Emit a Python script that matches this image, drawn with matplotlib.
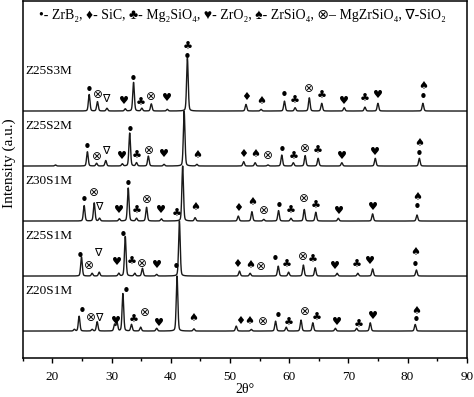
import numpy as np
import matplotlib
matplotlib.use("Agg")
import matplotlib.pyplot as plt

plt.rcParams["font.family"] = ["Liberation Serif", "DejaVu Sans"]

# ── data ────────────────────────────────────────────────────────────────────
SAMPLES = ["Z20S1M", "Z25S1M", "Z30S1M", "Z25S2M", "Z25S3M"]   # bottom → top

# peaks: (2θ, relative intensity)
PEAKS_Z20S1M = [(23.7, 0.03), (24.5, 0.27), (26.7, 0.03), (27.55, 0.17), (30.5, 0.12),
                (30.9, 0.16), (31.9, 0.68), (33.35, 0.12), (34.9, 0.07), (37.6, 0.05),
                (41.05, 1.0), (43.9, 0.04), (51.05, 0.09), (53.6, 0.03), (57.7, 0.18),
                (59.5, 0.07), (62.0, 0.2), (64.0, 0.15), (67.8, 0.05), (71.4, 0.05),
                (73.7, 0.15), (81.3, 0.12)]
PEAKS_Z25S1M = [(24.9, 0.35), (26.7, 0.05), (27.9, 0.07), (31.2, 0.05), (32.3, 0.72),
                (33.9, 0.05), (35.2, 0.14), (37.6, 0.03), (41.45, 1.0), (51.6, 0.09),
                (53.4, 0.05), (58.15, 0.18), (59.9, 0.07), (62.4, 0.2), (64.4, 0.15),
                (68.1, 0.05), (71.6, 0.05), (74.1, 0.13), (81.5, 0.11)]
PEAKS_Z30S1M = [(25.35, 0.28), (27.05, 0.33), (27.95, 0.05), (31.3, 0.04), (32.8, 0.6),
                (34.2, 0.05), (35.9, 0.25), (38.4, 0.04), (42.0, 1.0), (44.1, 0.06),
                (51.4, 0.09), (53.7, 0.17), (55.7, 0.03), (58.2, 0.19), (60.3, 0.05),
                (62.55, 0.21), (64.5, 0.16), (68.3, 0.05), (74.1, 0.13), (81.6, 0.11)]
PEAKS_Z25S2M = [(20.5, 0.02), (25.9, 0.26), (27.45, 0.05), (29.0, 0.1), (31.8, 0.04),
                (33.05, 0.6), (34.2, 0.06), (36.2, 0.18), (38.85, 0.03), (42.25, 1.0),
                (44.4, 0.03), (52.3, 0.08), (54.25, 0.06), (56.4, 0.02), (58.75, 0.2),
                (60.7, 0.06), (62.7, 0.19), (64.9, 0.14), (68.9, 0.06), (74.55, 0.14),
                (82.0, 0.14)]
PEAKS_Z25S3M = [(26.2, 0.3), (27.6, 0.17), (29.2, 0.05), (32.3, 0.04), (33.7, 0.52),
                (35.1, 0.05), (36.7, 0.13), (39.4, 0.03), (42.8, 0.96), (52.7, 0.12),
                (55.25, 0.03), (59.2, 0.18), (61.0, 0.06), (63.4, 0.24), (65.5, 0.14),
                (69.3, 0.06), (72.8, 0.07), (75.0, 0.14), (82.6, 0.14)]

# phase labels: (2θ, symbol, height above baseline)
LAB_Z20S1M = [(25.0, "•", 0.36), (26.4, "⊗", 0.24), (27.9, "∇", 0.24), (30.8, "♥", 0.19),
              (32.4, "•", 0.71), (33.7, "♣", 0.21), (35.6, "⊗", 0.33), (38.0, "♥", 0.15),
              (43.75, "♠", 0.23), (51.7, "♦", 0.19), (53.3, "♠", 0.18), (55.5, "⊗", 0.18),
              (58.2, "•", 0.27), (59.9, "♣", 0.15), (62.7, "⊗", 0.35), (64.7, "♣", 0.23),
              (68.1, "♥", 0.17), (71.7, "♣", 0.11), (74.1, "♥", 0.27), (81.5, "•", 0.2),
              (81.5, "♠", 0.37)]
LAB_Z25S1M = [(24.75, "•", 0.36), (26.2, "⊗", 0.2), (27.6, "∇", 0.42), (30.9, "♥", 0.26),
              (31.95, "•", 0.73), (33.35, "♣", 0.26), (35.1, "⊗", 0.22), (37.65, "♥", 0.2),
              (40.95, "•", 0.15), (51.2, "♦", 0.22), (53.5, "♠", 0.2), (55.2, "⊗", 0.18),
              (57.7, "•", 0.3), (59.65, "♣", 0.2), (62.35, "⊗", 0.35), (64.0, "♣", 0.29),
              (67.7, "♥", 0.18), (71.4, "♣", 0.2), (73.7, "♥", 0.28), (81.3, "•", 0.2),
              (81.3, "♠", 0.43)]
LAB_Z30S1M = [(25.35, "•", 0.37), (27.05, "⊗", 0.51), (27.85, "∇", 0.25), (31.25, "♥", 0.2),
              (32.8, "•", 0.67), (34.2, "♣", 0.19), (35.9, "⊗", 0.39), (38.4, "♥", 0.2),
              (41.0, "♣", 0.12), (44.1, "♠", 0.25), (51.35, "♦", 0.23), (53.7, "♠", 0.35),
              (55.7, "⊗", 0.2), (58.25, "•", 0.27), (60.3, "♣", 0.19), (62.55, "⊗", 0.41),
              (64.5, "♣", 0.27), (68.4, "♥", 0.19), (74.1, "♥", 0.26), (81.7, "•", 0.25),
              (81.7, "♠", 0.44)]
LAB_Z25S2M = [(25.9, "•", 0.33), (27.45, "⊗", 0.18), (29.0, "∇", 0.27), (31.8, "♥", 0.19),
              (33.05, "•", 0.64), (34.2, "♣", 0.19), (36.2, "⊗", 0.29), (38.85, "♥", 0.21),
              (44.4, "♠", 0.2), (52.3, "♦", 0.21), (54.25, "♠", 0.21), (56.4, "⊗", 0.19),
              (58.75, "•", 0.29), (60.7, "♣", 0.17), (62.7, "⊗", 0.31), (64.9, "♣", 0.27),
              (68.9, "♥", 0.19), (74.55, "♥", 0.26), (82.0, "•", 0.21), (82.0, "♠", 0.41)]
LAB_Z25S3M = [(26.2, "•", 0.38), (27.6, "⊗", 0.3), (29.0, "∇", 0.22), (32.05, "♥", 0.18),
              (33.7, "•", 0.57), (35.0, "♣", 0.15), (36.7, "⊗", 0.27), (39.4, "♥", 0.23),
              (42.8, "•", 0.98), (42.8, "♣", 1.17), (52.7, "♦", 0.25), (55.25, "♠", 0.19),
              (59.2, "•", 0.29), (61.0, "♣", 0.19), (63.4, "⊗", 0.41), (65.5, "♣", 0.27),
              (69.3, "♥", 0.19), (72.8, "♣", 0.21), (75.0, "♥", 0.29), (82.6, "•", 0.24),
              (82.6, "♠", 0.45)]

PEAKS = [PEAKS_Z20S1M, PEAKS_Z25S1M, PEAKS_Z30S1M, PEAKS_Z25S2M, PEAKS_Z25S3M]
LABELS = [LAB_Z20S1M, LAB_Z25S1M, LAB_Z30S1M, LAB_Z25S2M, LAB_Z25S3M]

LEGEND = "•- ZrB₂, ♦- SiC, ♣- Mg₂SiO₄, ♥- ZrO₂, ♠- ZrSiO₄, ⊗– MgZrSiO₄, ∇-SiO₂"

SYM_SIZE = {"•": 11, "⊗": 8.5, "∇": 8}


def pattern(tt, peaks, fwhm=0.32, eta=0.25):
    """pseudo-Voigt sum for a list of (position, intensity) peaks"""
    y = np.zeros_like(tt)
    hw = fwhm / 2
    for pos, amp in peaks:
        d = (tt - pos) / hw
        y += amp * (eta / (1 + d ** 2) + (1 - eta) * np.exp(-np.log(2) * d ** 2))
    return y


fig = plt.figure(figsize=(4.74, 3.97), dpi=100)
ax = fig.add_axes([22.9 / 474, 1 - 358 / 397, 443.8 / 474, 357 / 397])

tt = np.arange(15, 90.001, 0.01)
for i, (name, peaks, labs) in enumerate(zip(SAMPLES, PEAKS, LABELS)):
    ax.plot(tt, pattern(tt, peaks) + i, color="#1a1a1a", lw=1.0)
    ax.text(15.35, i + 0.72, name, fontsize=9.5, va="center", ha="left")
    for pos, sym, h in labs:
        ax.text(pos, i + h, sym, fontsize=SYM_SIZE.get(sym, 8), ha="center", va="center",
                family=["DejaVu Sans"])

ax.text(52.1, 5.74, LEGEND, fontsize=10, ha="center", va="center")

ax.set_xlim(15, 90)
ax.set_ylim(-0.49, 6.0)
ax.set_yticks([])
ax.set_xticks(np.arange(20, 91, 10))
ax.set_xticks(np.arange(15, 91, 5), minor=True)
ax.tick_params(axis="x", which="major", direction="out", length=3.5, width=1.0,
               labelsize=9.5, pad=6)
ax.tick_params(axis="x", which="minor", direction="out", length=2, width=1.0)
for sp in ax.spines.values():
    sp.set_linewidth(1.1)
ax.set_xlabel("2θ°", fontsize=10, labelpad=0)
ax.set_ylabel("Intensity (a.u.)", fontsize=11)
ax.yaxis.set_label_coords(-0.016, 0.546)

fig.savefig("out.png", dpi=100)
